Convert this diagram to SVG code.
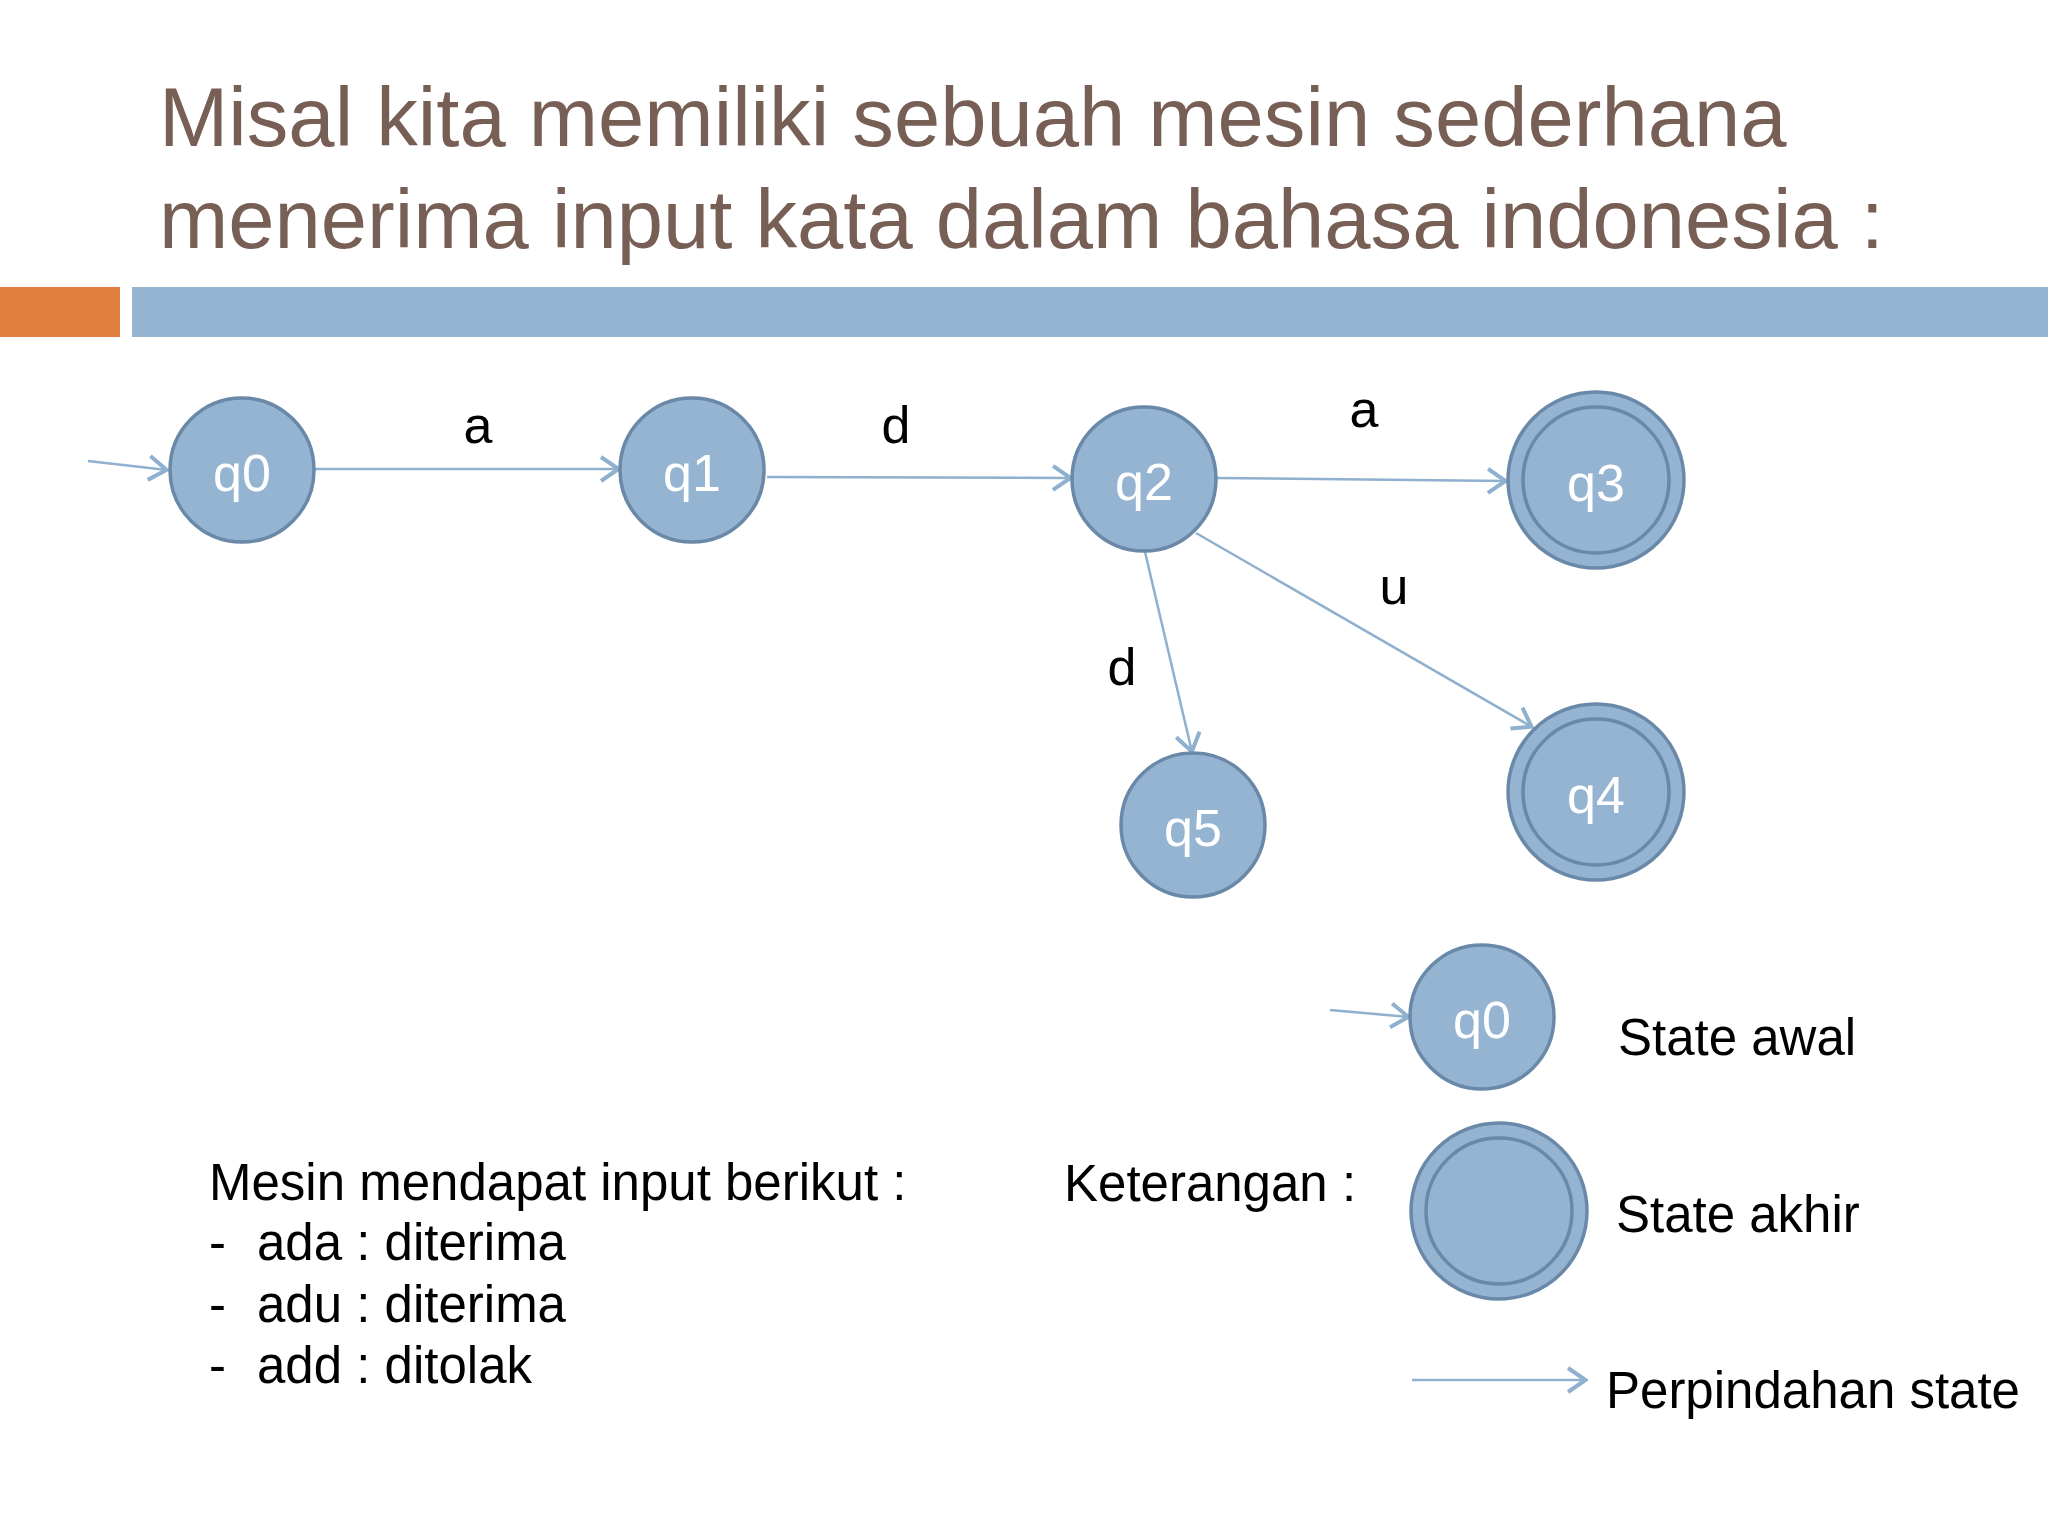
<svg xmlns="http://www.w3.org/2000/svg" width="2048" height="1536" viewBox="0 0 2048 1536">
<defs>
<style>
.state{fill:#94B4D2;stroke:#6A89A8;stroke-width:3.5}
.ring{fill:none;stroke:#6A89A8;stroke-width:3.5}
.nl{font-family:"Liberation Sans",Arial,sans-serif;font-size:52px;fill:#FFFFFF;text-anchor:middle}
.el{font-family:"Liberation Sans",Arial,sans-serif;font-size:52px;fill:#000000;text-anchor:middle}
.tx{font-family:"Liberation Sans",Arial,sans-serif;font-size:51px;fill:#000000}
.title{font-family:"Liberation Sans",Arial,sans-serif;font-size:83.2px;fill:#785F55}
.edge{fill:none;stroke:#8FB0CE;stroke-width:2.5}
</style>
<marker id="arr" viewBox="0 0 22 28" refX="20" refY="14" markerWidth="22" markerHeight="28" markerUnits="userSpaceOnUse" orient="auto">
<path d="M2,2 L19.5,14 L2,26" fill="none" stroke="#8FB0CE" stroke-width="4"/>
</marker>
</defs>
<rect width="2048" height="1536" fill="#FFFFFF"/>
<g id="title">
<text class="title" x="159" y="146">Misal kita memiliki sebuah mesin sederhana</text>
<text class="title" x="159" y="248">menerima input kata dalam bahasa indonesia :</text>
</g>
<g id="header-bars">
<rect x="0" y="287" width="120" height="50" fill="#E07F40"/>
<rect x="132" y="287" width="1916" height="50" fill="#94B4D2"/>
</g>
<g id="connectors">
<line class="edge" x1="88" y1="461" x2="167" y2="470" marker-end="url(#arr)"/>
<line class="edge" x1="315" y1="469" x2="619" y2="469" marker-end="url(#arr)"/>
<line class="edge" x1="767" y1="477" x2="1071" y2="478" marker-end="url(#arr)"/>
<line class="edge" x1="1217" y1="478" x2="1506" y2="481" marker-end="url(#arr)"/>
<line class="edge" x1="1145" y1="552" x2="1192" y2="752" marker-end="url(#arr)"/>
<line class="edge" x1="1196" y1="533" x2="1532" y2="727" marker-end="url(#arr)"/>
<line class="edge" x1="1330" y1="1010" x2="1409" y2="1017" marker-end="url(#arr)"/>
<line class="edge" x1="1412" y1="1380" x2="1586" y2="1380" marker-end="url(#arr)"/>
</g>
<g id="edge-labels">
<text class="el" x="478" y="443">a</text>
<text class="el" x="896" y="443">d</text>
<text class="el" x="1364" y="427">a</text>
<text class="el" x="1394" y="604">u</text>
<text class="el" x="1122" y="685">d</text>
</g>
<g id="q0"><circle class="state" cx="242" cy="470" r="72"/><text class="nl" x="242" y="491">q0</text></g>
<g id="q1"><circle class="state" cx="692" cy="470" r="72"/><text class="nl" x="692" y="491">q1</text></g>
<g id="q2"><circle class="state" cx="1144" cy="479" r="72"/><text class="nl" x="1144" y="500">q2</text></g>
<g id="q3"><circle class="state" cx="1596" cy="480" r="88"/><circle class="ring" cx="1596" cy="480" r="73"/><text class="nl" x="1596" y="501">q3</text></g>
<g id="q4"><circle class="state" cx="1596" cy="792" r="88"/><circle class="ring" cx="1596" cy="792" r="73"/><text class="nl" x="1596" y="813">q4</text></g>
<g id="q5"><circle class="state" cx="1193" cy="825" r="72"/><text class="nl" x="1193" y="846">q5</text></g>
<g id="legend-start"><circle class="state" cx="1482" cy="1017" r="72"/><text class="nl" x="1482" y="1038">q0</text></g>
<g id="legend-final"><circle class="state" cx="1499" cy="1211" r="88"/><circle class="ring" cx="1499" cy="1211" r="73"/></g>
<g id="legend-text">
<text class="tx" x="1618" y="1055">State awal</text>
<text class="tx" x="1616" y="1232">State akhir</text>
<text class="tx" x="1606" y="1408">Perpindahan state</text>
<text class="tx" x="1064" y="1201">Keterangan :</text>
</g>
<g id="inputs">
<text class="tx" x="209" y="1200">Mesin mendapat input berikut :</text>
<text class="tx" x="209" y="1260">-</text><text class="tx" x="257" y="1260">ada : diterima</text>
<text class="tx" x="209" y="1322">-</text><text class="tx" x="257" y="1322">adu : diterima</text>
<text class="tx" x="209" y="1383">-</text><text class="tx" x="257" y="1383">add : ditolak</text>
</g>
</svg>
